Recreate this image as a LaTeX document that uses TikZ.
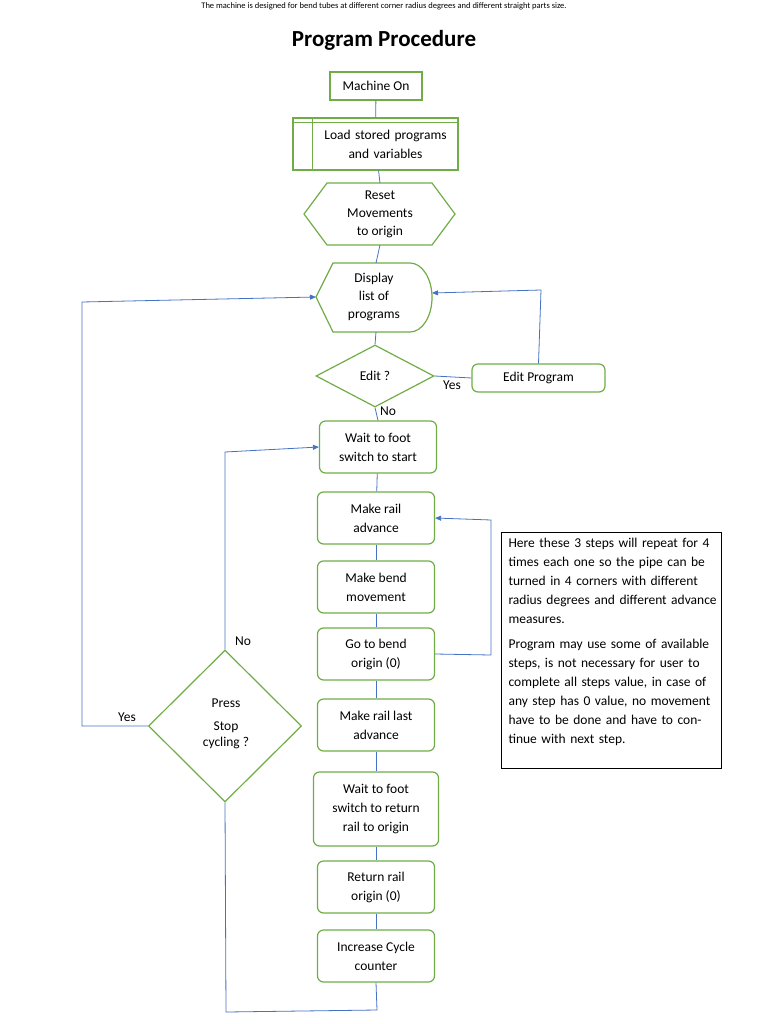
\documentclass[tikz,border=0pt]{standalone}
\usepackage{fontspec}
\setmainfont{Carlito}
\usetikzlibrary{shapes.geometric,arrows.meta}
\definecolor{gr}{HTML}{70AD47}
\definecolor{bl}{HTML}{4472C4}
\begin{document}
\begin{tikzpicture}[x=1pt,y=-1pt,
  box/.style={draw=gr,line width=1.2pt,rounded corners=6pt,minimum width=117pt,minimum height=52pt,align=center,font=\fontsize{13.5}{19}\selectfont},
  conn/.style={draw=bl,line width=0.8pt},
  arr/.style={conn,-{Triangle[length=6pt,width=5pt]}},
  lbl/.style={font=\fontsize{13.5}{15}\selectfont}]
\useasboundingbox (0,0) rectangle (768,1024);
\node[font=\fontsize{8.5}{10}\selectfont] (top) at (384,6) {The machine is designed for bend tubes at different corner radius degrees and different straight parts size.};
\node[font=\bfseries\fontsize{23}{26}\selectfont] (title) at (384,40) {Program Procedure};
\node[box,rounded corners=0pt,line width=1.5pt,minimum width=92pt,minimum height=28pt] (on) at (376,86) {Machine On};
\node[box,rounded corners=0pt,minimum width=165pt,minimum height=52pt,text width=150pt] (load) at (375.5,144) {\hspace*{20pt}Load stored programs\\\hspace*{20pt}and variables};
\draw[gr,line width=1pt] (load.north west)++(20,0) -- ++(0,52) (load.north west)++(0,5) -- ++(165,0);
\draw[gr,line width=1.2pt] (304,214) -- (327,183) -- (432,183) -- (455,214) -- (432,245) -- (327,245) -- cycle;
\node[align=center,lbl] (reset) at (380,214) {Reset\\[3pt]Movements\\[3pt]to origin};
\draw[gr,line width=1.2pt] (316,297) -- (333,263) -- (410,263) arc[start angle=-90,end angle=90,x radius=22,y radius=34.5] -- (333,332) -- cycle;
\node[align=center,lbl] (disp) at (374,297) {Display\\[3pt]list of\\[3pt]programs};
\coordinate (dispL) at (316,297); \coordinate (dispR) at (432,293);
\node[draw=gr,line width=1.2pt,diamond,aspect=1.9,minimum width=118pt,minimum height=62pt,inner sep=0pt,lbl] (edit) at (375,376) {Edit ?};
\node[box,minimum width=133pt,minimum height=28pt] (ep) at (538.5,378) {Edit Program};
\node[box] (wait) at (378,447) {Wait to foot\\switch to start};
\node[box] (rail) at (376,518) {Make rail\\advance};
\node[box] (bend) at (376,587) {Make bend\\movement};
\node[box] (go) at (376,654) {Go to bend\\origin (0)};
\node[box] (last) at (376,725) {Make rail last\\advance};
\node[box,minimum width=125pt,minimum height=74pt] (wret) at (376,809) {Wait to foot\\switch to return\\rail to origin};
\node[box] (ret) at (376,887) {Return rail\\origin (0)};
\node[box] (inc) at (376,956) {Increase Cycle\\counter};
\node[draw=gr,line width=1.2pt,diamond,minimum width=153pt,minimum height=152pt,inner sep=0pt] (press) at (225,726) {};
\node[align=center,lbl] (presst) at (226,724) {Press\\[8pt]Stop\\[1pt]cycling ?};
\node[draw,line width=0.8pt,minimum width=220pt,minimum height=236pt,anchor=north west,inner sep=0pt] (note) at (501,532) {};
\node[anchor=north west,text width=212pt,align=left,font=\fontsize{13.5}{19}\selectfont] (notet) at (505,535) {Here these 3 steps will repeat for 4 times each one so the pipe can be turned in 4 corners with different radius degrees and different advance measures.\par\vspace{6pt}Program may use some of available steps, is not necessary for user to complete all steps value, in case of any step has 0 value, no movement have to be done and have to continue with next step.};
% connectors
\draw[conn] (on) -- (load);
\draw[conn] (load) -- (380,183);
\draw[conn] (380,245) -- (376,263);
\draw[conn] (376,332) -- (edit.north);
\draw[conn] (edit.south) -- (wait.north);
\draw[conn] (wait) -- (rail); \draw[conn] (rail) -- (bend); \draw[conn] (bend) -- (go);
\draw[conn] (go) -- (last); \draw[conn] (last) -- (wret); \draw[conn] (wret) -- (ret); \draw[conn] (ret) -- (inc);
\draw[conn] (edit.east) -- (ep.west);
\draw[arr] (ep.north) -- (541,290) -- (dispR);
\draw[arr] (press.west) -- (82,726) -- (82,302) -- (dispL);
\draw[arr] (go.east) -- (491,655) -- (491,520) -- (rail.east);
\draw[arr] (press.north) -- (225,452) -- (wait.west);
\draw[conn] (inc.south) -- (377,1010) -- (226,1012) -- (press.south);
\node[lbl] (yes1) at (452,385) {Yes};
\node[lbl] (no1) at (388,411) {No};
\node[lbl] (no2) at (243,641) {No};
\node[lbl] (yes2) at (127,717) {Yes};
\end{tikzpicture}
\end{document}
